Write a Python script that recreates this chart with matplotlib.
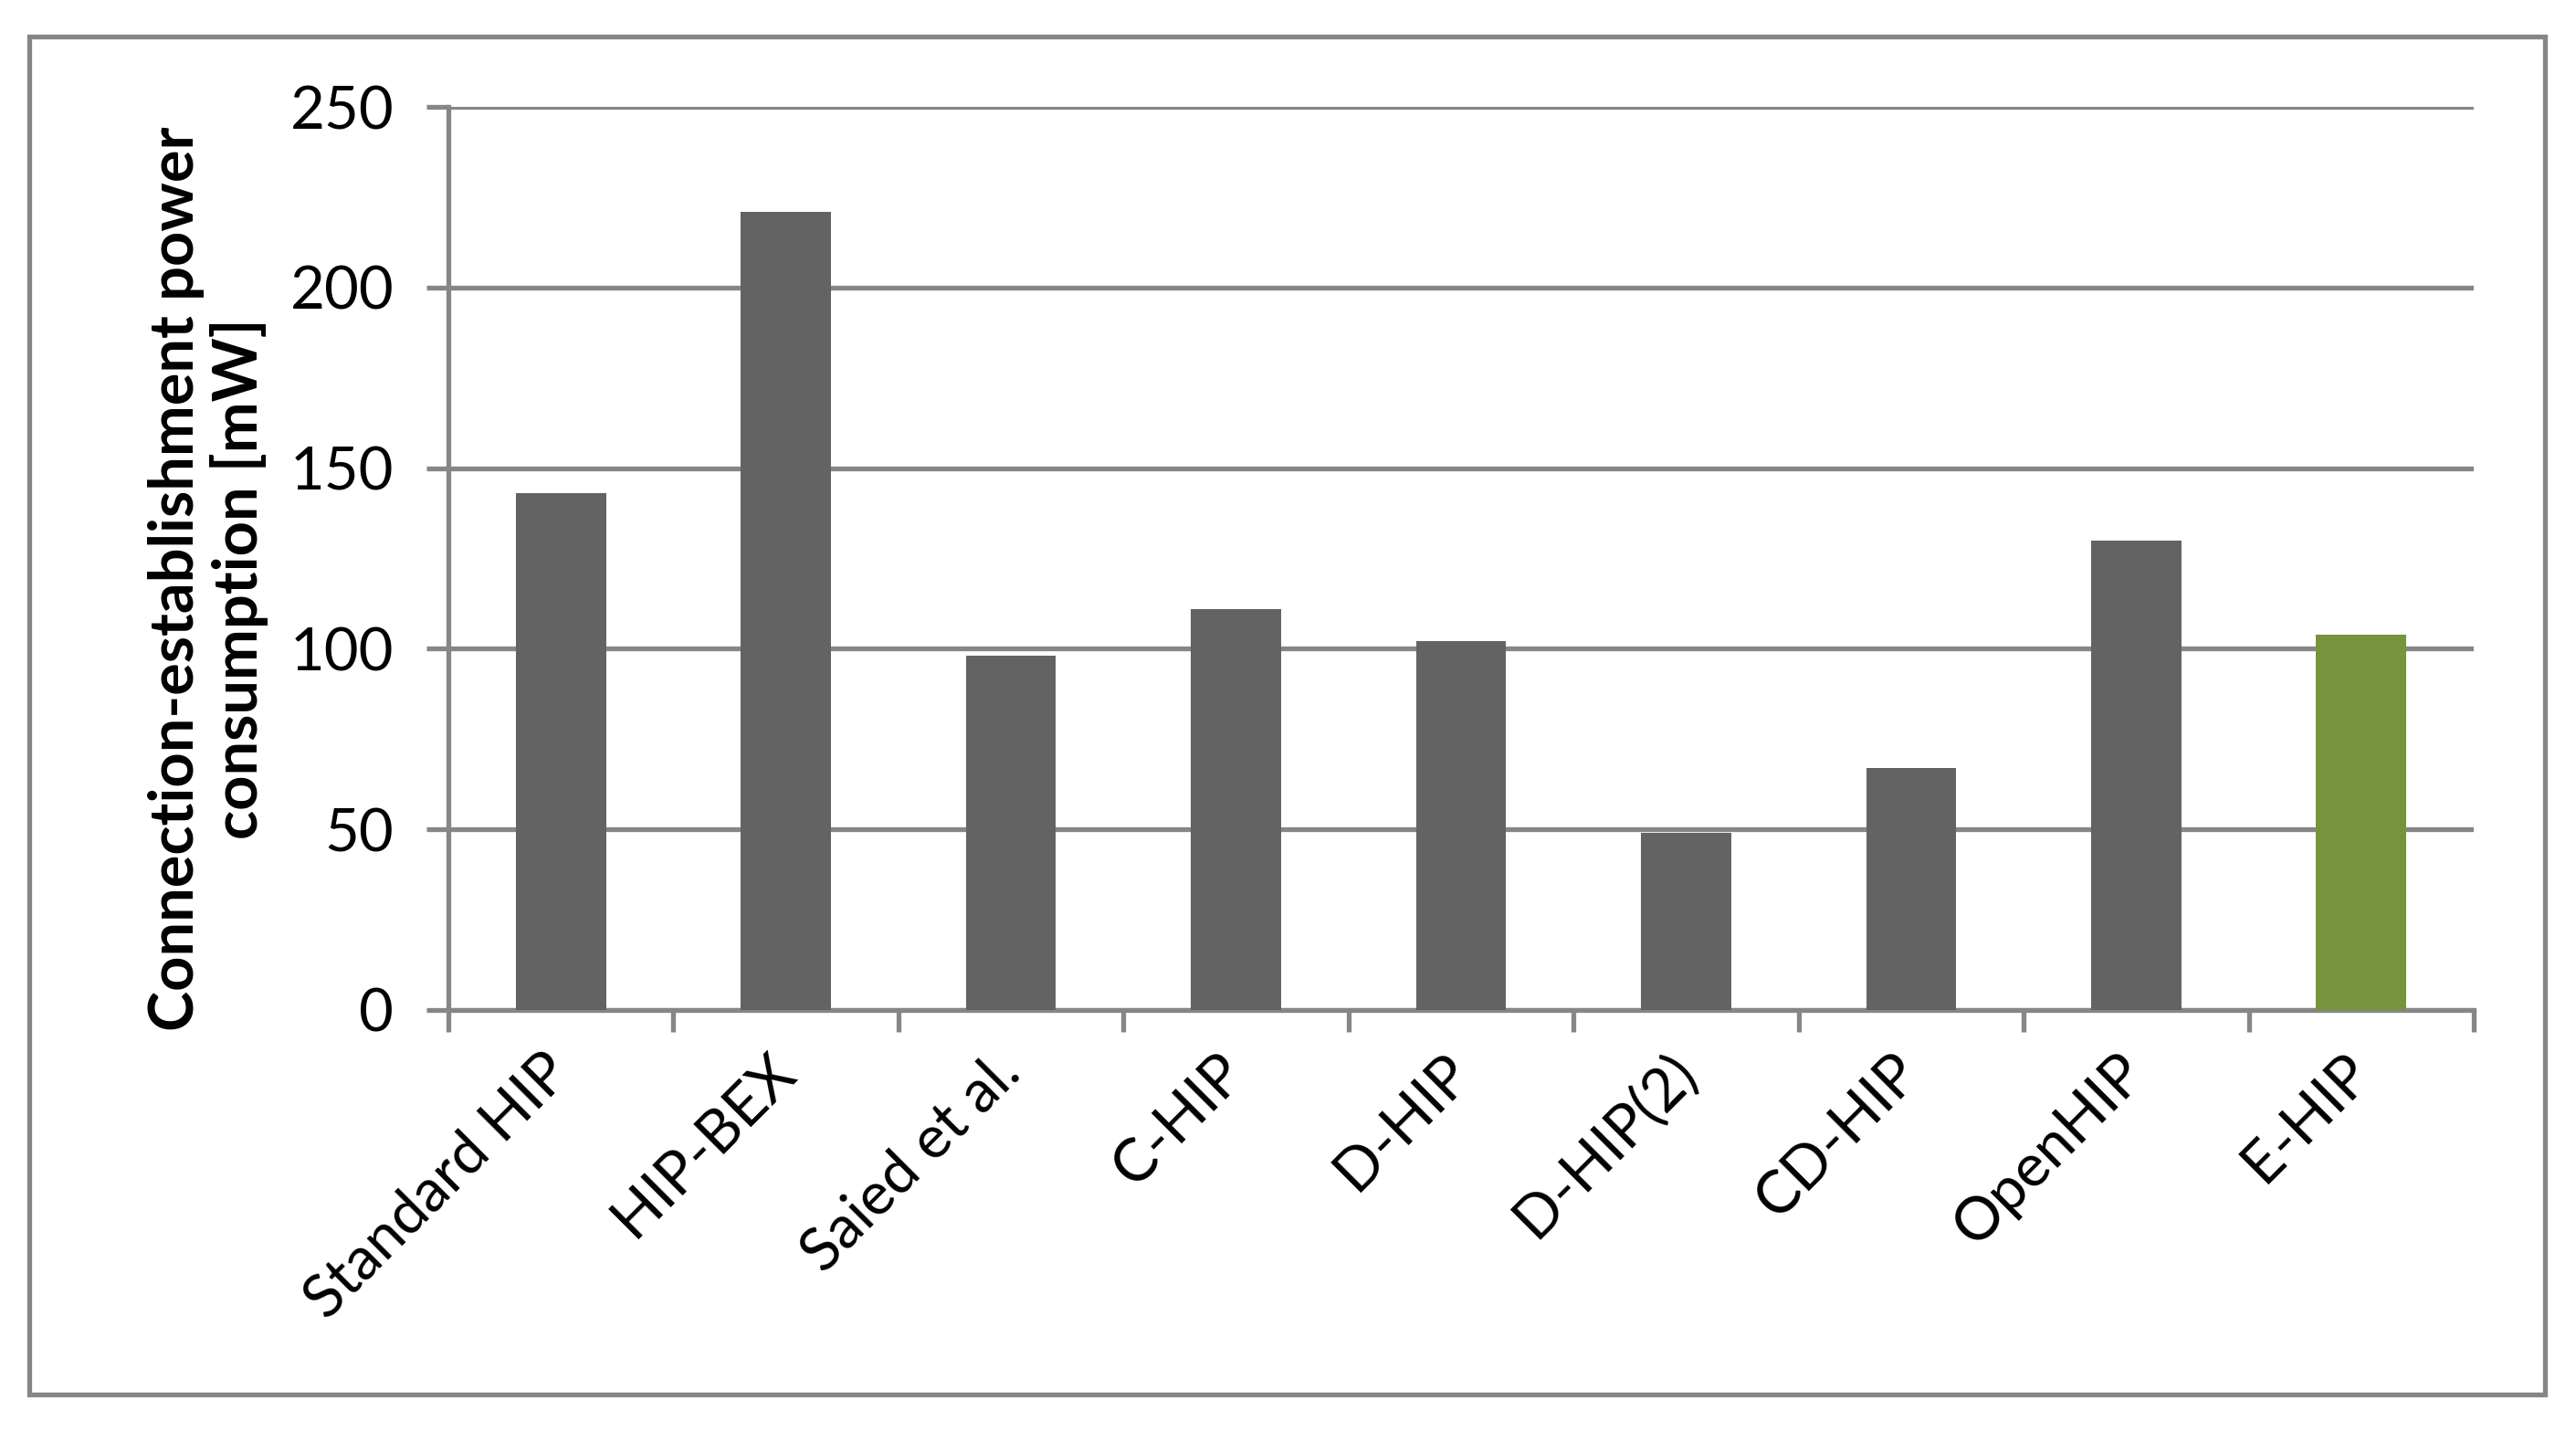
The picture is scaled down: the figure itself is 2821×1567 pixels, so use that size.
import matplotlib
matplotlib.use("Agg")
import matplotlib.pyplot as plt
from matplotlib.patches import Rectangle

categories = ["Standard HIP", "HIP-BEX", "Saied et al.", "C-HIP", "D-HIP",
              "D-HIP(2)", "CD-HIP", "OpenHIP", "E-HIP"]
values = [143, 221, 98, 111, 102, 49, 67, 130, 104]
bar_colors = ["#636363"] * 8 + ["#77933C"]
yticks = [0, 50, 100, 150, 200, 250]
ylabel = "Connection-establishment power\nconsumption [mW]"

W, H = 2821, 1567
plt.rcParams['font.family'] = ['Lato', 'DejaVu Sans']
fig = plt.figure(figsize=(W / 100, H / 100), dpi=100)
grid_c = "#868686"

ax_l, ax_r, ax_t, ax_b = 491, 2709, 117, 1106
ax = fig.add_axes([ax_l / W, 1 - ax_b / H, (ax_r - ax_l) / W, (ax_b - ax_t) / H])

x = list(range(len(categories)))
ax.bar(x, values, width=0.40, color=bar_colors, zorder=3)
ax.set_xlim(-0.5, len(categories) - 0.5)
ax.set_ylim(0, 250)
ax.set_yticks(yticks)
ax.set_yticklabels([str(v) for v in yticks], fontsize=47)
ax.yaxis.grid(True, color=grid_c, linewidth=3.8, zorder=0)
ax.set_axisbelow(True)

ax.set_xticks(x)
ax.set_xticklabels(categories, fontsize=47, rotation=45, ha='right',
                   va='center', rotation_mode='anchor')
ax.set_xticks([i - 0.5 for i in range(len(categories) + 1)], minor=True)
ax.tick_params(axis='x', which='major', length=0, pad=42)
ax.tick_params(axis='x', which='minor', length=17, width=3.8, color=grid_c)
ax.tick_params(axis='y', length=17, width=3.8, color=grid_c, pad=26)

for s in ['top', 'right']:
    ax.spines[s].set_visible(False)
for s in ['left', 'bottom']:
    ax.spines[s].set_color(grid_c)
    ax.spines[s].set_linewidth(3.8)

fig.text(228 / W, 1 - 634 / H, ylabel, rotation=90, ha='center', va='center',
         fontsize=48, fontweight='bold', linespacing=1.12, multialignment='center')

fig.patches.append(Rectangle((32 / W, 1 - 1527 / H), (2787 - 32) / W, (1527 - 40) / H,
                             transform=fig.transFigure, fill=False,
                             edgecolor=grid_c, linewidth=3.8))

fig.savefig("out.png", dpi=100, facecolor="white")
